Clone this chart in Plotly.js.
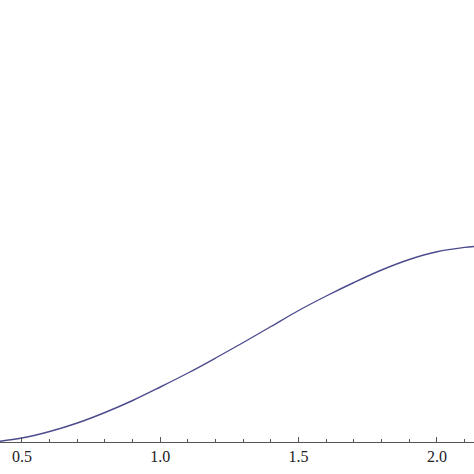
<!DOCTYPE html>
<html>
<head>
<meta charset="utf-8">
<script src="https://cdn.plot.ly/plotly-3.0.1.min.js"></script>
<style>
  html, body { margin: 0; padding: 0; background: #fff; }
  #myDiv { width: 474px; height: 474px; }
</style>
</head>
<body>
<div id="myDiv"></div>
<script>
// curve (y in arbitrary units, axis at 0)
var xs = [0.42, 0.5, 0.6, 0.7, 0.8, 0.9, 1.0, 1.1, 1.2, 1.3, 1.4, 1.5, 1.6, 1.7, 1.8, 1.9, 2.0, 2.1, 2.134];
var ys = [0.008, 0.04, 0.105, 0.19, 0.295, 0.415, 0.55, 0.69, 0.84, 0.995, 1.155, 1.315, 1.46, 1.595, 1.72, 1.825, 1.902, 1.946, 1.955];
var tickVals = [0.5, 1.0, 1.5, 2.0];
var tickText = ['0.5', '1.0', '1.5', '2.0'];

var trace = {
    x: xs,
    y: ys,
    mode: 'lines',
    type: 'scatter',
    line: { color: '#4c4b8e', width: 1.4, shape: 'spline', smoothing: 1 },
    hoverinfo: 'none'
};

var layout = {
    width: 474,
    height: 474,
    margin: { l: 0, r: 0, t: 0, b: 32 },
    paper_bgcolor: '#fff',
    plot_bgcolor: '#fff',
    showlegend: false,
    xaxis: {
        range: [0.4205, 2.134],
        tickvals: tickVals,
        ticktext: tickText,
        ticks: 'inside',
        ticklen: 5,
        tickcolor: '#555',
        tickwidth: 1,
        minor: { dtick: 0.1, ticks: 'inside', ticklen: 3, tickcolor: '#555', showgrid: false },
        showline: true,
        linecolor: '#555',
        linewidth: 1,
        showgrid: false,
        zeroline: false,
        tickfont: { family: '"Liberation Serif", "Times New Roman", serif', size: 16, color: '#222' }
    },
    yaxis: {
        range: [0, 4.42],
        visible: false,
        showgrid: false,
        zeroline: false
    }
};

Plotly.newPlot('myDiv', [trace], layout, { staticPlot: true });
</script>
</body>
</html>
